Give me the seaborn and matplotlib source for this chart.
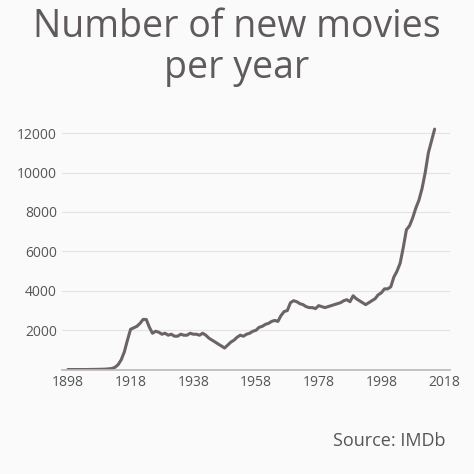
import numpy as np
import pandas as pd
import matplotlib
matplotlib.use('Agg')
import matplotlib.pyplot as plt
import seaborn as sns

years = [1898, 1900, 1902, 1904, 1906, 1908, 1910, 1912, 1913, 1914, 1915, 1916, 1917, 1918, 1920,
         1921, 1922, 1923, 1924, 1925, 1926, 1927, 1928, 1929, 1930, 1931, 1932, 1933, 1934, 1935,
         1936, 1937, 1938, 1939, 1940, 1941, 1942, 1943, 1944, 1945, 1946, 1947, 1948, 1949, 1950,
         1951, 1952, 1953, 1954, 1955, 1956, 1957, 1958, 1959, 1960, 1961, 1962, 1963, 1964, 1965,
         1966, 1967, 1968, 1969, 1970, 1971, 1972, 1973, 1974, 1975, 1976, 1977, 1978, 1979, 1980,
         1981, 1982, 1983, 1984, 1985, 1986, 1987, 1988, 1989, 1990, 1991, 1992, 1993, 1994, 1995,
         1996, 1997, 1998, 1999, 2000, 2001, 2002, 2003, 2004, 2005, 2006, 2007, 2008, 2009, 2010,
         2011, 2012, 2013, 2014, 2015, 2016, 2017, 2018]
movies = [10, 10, 10, 10, 15, 20, 30, 60, 120, 250, 500, 900, 1500, 2050, 2200,
          2350, 2550, 2550, 2150, 1850, 1950, 1900, 1800, 1850, 1750, 1800, 1700, 1700, 1800, 1750,
          1750, 1850, 1800, 1800, 1750, 1850, 1750, 1600, 1500, 1400, 1300, 1200, 1100, 1250, 1400,
          1500, 1650, 1750, 1700, 1800, 1850, 1950, 2000, 2150, 2200, 2300, 2350, 2450, 2500, 2450,
          2750, 2950, 3000, 3400, 3500, 3450, 3350, 3300, 3200, 3150, 3150, 3100, 3250, 3200, 3150,
          3200, 3250, 3300, 3350, 3400, 3500, 3550, 3450, 3750, 3600, 3500, 3400, 3300, 3400, 3500,
          3600, 3800, 3900, 4100, 4100, 4200, 4700, 5000, 5400, 6200, 7100, 7300, 7700, 8200, 8500,
          9000, 9500, 10000, 10600, 11200, 11700, 12200][:0] or None

# values per listed year (trimmed pairing below)
movies = [10, 10, 10, 10, 15, 20, 30, 60, 120, 250, 500, 900, 1500, 2050, 2200,
          2350, 2550, 2550, 2150, 1850, 1950, 1900, 1800, 1850, 1750, 1800, 1700, 1700, 1800, 1750,
          1750, 1850, 1800, 1800, 1750, 1850, 1750, 1600, 1500, 1400, 1300, 1200, 1100, 1250, 1400,
          1500, 1650, 1750, 1700, 1800, 1850, 1950, 2000, 2150, 2200, 2300, 2350, 2450, 2500, 2450,
          2750, 2950, 3000, 3400, 3500, 3450, 3350, 3300, 3200, 3150, 3150, 3100, 3250, 3200, 3150,
          3200, 3250, 3300, 3350, 3400, 3500, 3550, 3450, 3750, 3600, 3500, 3400, 3300, 3400, 3500,
          3600, 3800, 3900, 4100, 4100, 4200, 4700, 5000, 5400, 6200, 7100, 7300, 7700, 8200, 8600,
          9200, 10000, 11000, 11600, 12200]
n = min(len(years), len(movies))
df = pd.DataFrame({'year': years[-n:] if False else years[:n], 'movies': movies[:n]})

bg = '#fafafa'
col = '#6b6365'
sns.set_theme(style='white')
plt.rcParams['font.family'] = ['Open Sans', 'DejaVu Sans']

fig = plt.figure(figsize=(4.74, 4.74), dpi=100, facecolor=bg)
ax = fig.add_axes([0.13, 0.22, 0.82, 0.52], facecolor=bg)
sns.lineplot(data=df, x='year', y='movies', color=col, linewidth=2.2, ax=ax)

ax.set_xlim(1896, 2020)
ax.set_ylim(0, 12500)
ax.set_xticks([1898, 1918, 1938, 1958, 1978, 1998, 2018])
ax.set_yticks([2000, 4000, 6000, 8000, 10000, 12000])
ax.yaxis.grid(True, color='#e3e3e3', linewidth=0.8)
for s in ['top', 'right', 'left']:
    ax.spines[s].set_visible(False)
ax.spines['bottom'].set_color('#bbbbbb')
ax.tick_params(colors='#555555', labelsize=10, length=0)
ax.set_xlabel('')
ax.set_ylabel('')

fig.text(0.5, 0.9, 'Number of new movies\nper year', ha='center', va='center',
         fontsize=27, color='#5f5a5b', linespacing=1.1)
fig.text(0.94, 0.07, 'Source: IMDb', ha='right', va='center', fontsize=13, color='#555555')

fig.savefig('out.png', dpi=100, facecolor=bg)
